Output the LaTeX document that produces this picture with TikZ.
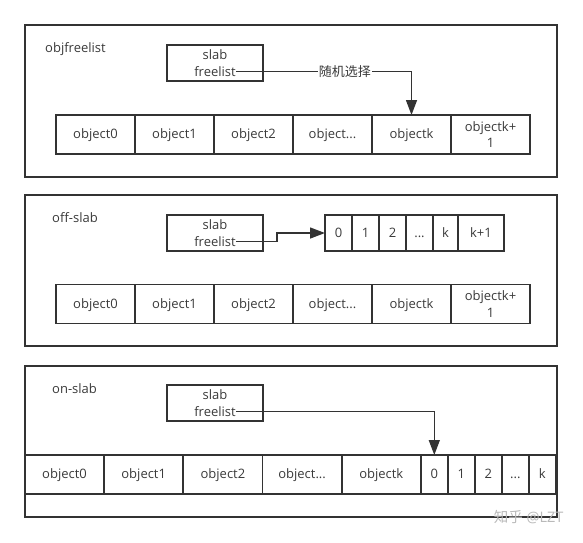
\documentclass[tikz,border=0pt]{standalone}
\usepackage{fontspec}
\setmainfont{Open Sans}
\newfontfamily\cjk{Noto Sans CJK SC}
\usetikzlibrary{arrows.meta,positioning}
\definecolor{ink}{HTML}{333333}
\definecolor{txt}{HTML}{3A3A3A}
\newcommand\objdots{object...}

\begin{document}
\begin{tikzpicture}[x=1pt,y=-1pt,>={Triangle[length=15pt,width=11pt]},
  font=\fontsize{13}{16.5}\selectfont,
  panel/.style={draw=ink,line width=1.6pt},
  cell/.style={draw=ink,line width=1.6pt,inner sep=0pt,outer sep=0pt,
    text=txt,align=center,text height=11pt,text depth=3pt},
  objcell/.style={cell,minimum width=79pt,minimum height=39pt},
  twoline/.style={objcell,text height={},text depth={}},
  idxcell/.style={cell,minimum height=36pt},
  slabbox/.style={draw=ink,line width=1.6pt,minimum width=96pt,minimum height=36pt},
  label/.style={text=txt,inner sep=0pt},
  link/.style={draw=ink,line width=1.4pt,->}]
  \useasboundingbox (0,0) rectangle (583,542);

  % objfreelist
  \draw[panel] (25,25) rectangle (557,177);
  \node[label,anchor=west] (t1) at (45,49) {objfreelist};
  \node[slabbox] (s1) at (215,63) {};
  \node[label] (sl1) at (215,55) {slab};
  \node[label] (fl1) at (215,71.5) {freelist};
  \foreach \t [count=\i from 0] in {object0,object1,object2,\objdots,objectk} {
    \node[objcell] (a\i) at ({95.5+79*\i},134.5) {\t};
  }
  \node[twoline,right=0pt of a4] (a5) {objectk+\\1};
  \draw[link] (fl1.east) -| node[pos=0.31,fill=white,text=txt,inner sep=1pt]{\cjk 随机选择} (a4.north);

  % off-slab
  \draw[panel] (25,195) rectangle (557,346);
  \node[label,anchor=west] (t2) at (52,218) {off-slab};
  \node[slabbox] (s2) at (215,233) {};
  \node[label] (sl2) at (215,225) {slab};
  \node[label] (fl2) at (215,241.5) {freelist};
  \node[idxcell,minimum width=27pt,anchor=west] (b0) at (325,233) {0};
  \node[idxcell,minimum width=27pt,right=0pt of b0] (b1) {1};
  \node[idxcell,minimum width=27pt,right=0pt of b1] (b2) {2};
  \node[idxcell,minimum width=27pt,right=0pt of b2] (b3) {...};
  \node[idxcell,minimum width=25pt,right=0pt of b3] (b4) {k};
  \node[idxcell,minimum width=46pt,right=0pt of b4] (b5) {k+1};
  \foreach \t [count=\i from 0] in {object0,object1,object2,\objdots,objectk} {
    \node[objcell] (o\i) at ({95.5+79*\i},304) {\t};
  }
  \node[twoline,right=0pt of o4] (o5) {objectk+\\1};
  \draw[link] (fl2.east) -- ++(41,0) |- (b0.west);

  % on-slab
  \draw[panel] (25,366) rectangle (557,517);
  \node[label,anchor=west] (t3) at (52,389) {on-slab};
  \node[slabbox] (s3) at (215,403) {};
  \node[label] (sl3) at (215,395) {slab};
  \node[label] (fl3) at (215,411.5) {freelist};
  \foreach \t [count=\i from 0] in {object0,object1,object2,\objdots,objectk} {
    \node[objcell] (r\i) at ({64.5+79.2*\i},474.5) {\t};
  }
  \node[idxcell,minimum width=27pt,minimum height=39pt,right=0pt of r4] (c0) {0};
  \node[idxcell,minimum width=27pt,minimum height=39pt,right=0pt of c0] (c1) {1};
  \node[idxcell,minimum width=27pt,minimum height=39pt,right=0pt of c1] (c2) {2};
  \node[idxcell,minimum width=27pt,minimum height=39pt,right=0pt of c2] (c3) {...};
  \node[idxcell,minimum width=27pt,minimum height=39pt,right=0pt of c3] (c4) {k};
  \draw[link] (fl3.east) -| (c0.north);

  \node[text=gray!55,anchor=east,font=\fontsize{14.5}{16}\selectfont] (wm) at (567,517) {{\cjk 知乎} @LZT};
\end{tikzpicture}
\end{document}
